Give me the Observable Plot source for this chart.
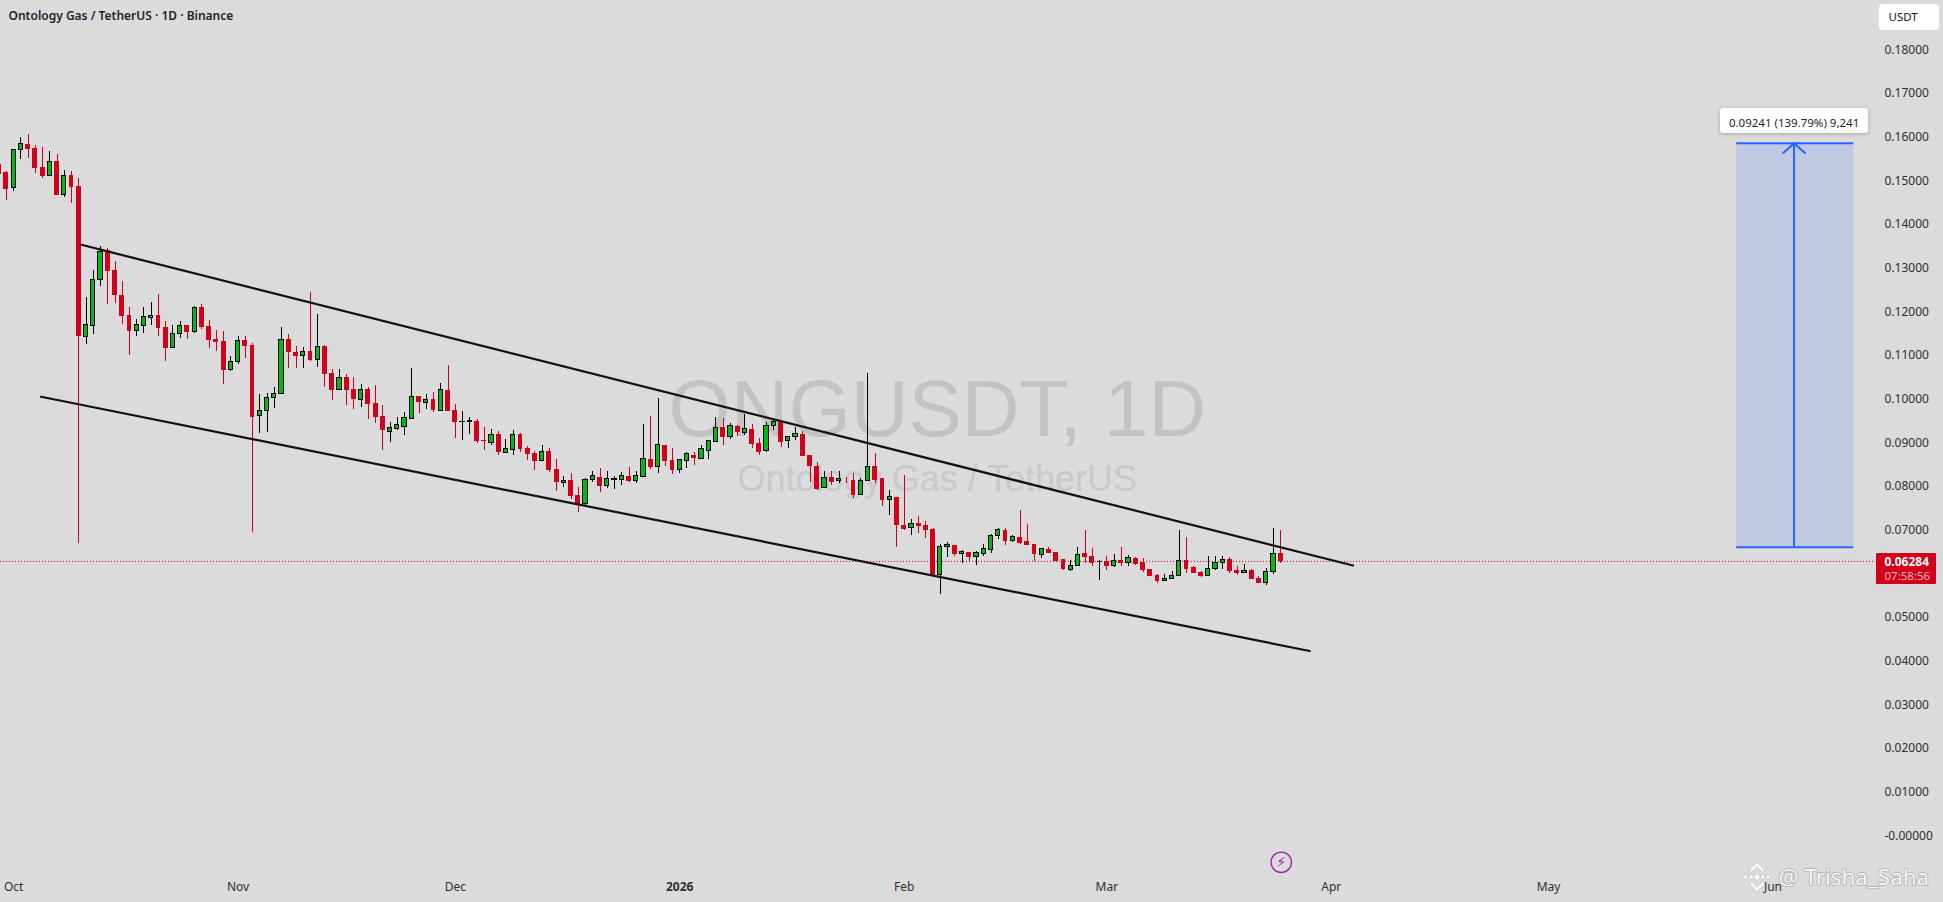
<!DOCTYPE html>
<html><head><meta charset="utf-8">
<style>html,body{margin:0;padding:0;background:#dbdbdb;overflow:hidden}svg{display:block}</style>
<script src="https://cdn.jsdelivr.net/npm/d3@7"></script>
<script src="https://cdn.jsdelivr.net/npm/@observablehq/plot@0.6"></script>
</head><body><div id="chart"></div>
<script>
const open=[.15377,.15193,.14834,.15705,.15835,.15743,.15308,.15109,.15445,.14674,.15125,.14873,.11421,.11673,.12727,.13406,.12948,.12375,.11917,.11558,.11673,.11856,.11917,.11642,.11169,.11489,.11688,.11535,.12100,.11665,.11367,.11321,.10665,.10848,.11344,.11230,.09611,.09725,.10023,.10115,.11367,.11069,.10985,.11092,.10894,.11207,.10588,.10206,
.10497,.10222,.09993,.10222,.09901,.09603,.09259,.09328,.09374,.09557,.10061,.09924,.09993,.09740,.10199,.09740,.09473,.09473,.09488,.09053,.09007,.09191,.08778,.08847,.09191,.08870,.08755,.08580,.08801,.08389,.08076,
.08138,.07794,.07595,.08145,.08206,.08000,.08153,.08145,.08229,.08122,.08214,.08619,.08443,.08940,.08596,.08374,.08581,.08710,.08626,.08810,.09016,.09352,.09123,.09375,.09237,.09306,.08985,.08802,.09375,.09467,.09039,.09123,.09192,.08710,.08458,.07962,.08206,.08130,.08145,.08138,.07802,.08122,.08458,.08183,.07695,
.07748,.07107,.07038,.07153,.07107,.07015,.05976,.06603,.06649,.06450,.06488,.06381,.06450,.06542,.06862,.06992,.06748,.06832,.06740,.06671,.06427,.06557,.06488,.06328,.06076,.06175,
.06465,.06396,.06266,.06281,.06175,.06304,.06251,.06350,.06259,.06098,.05961,.05839,.05877,.05945,.06304,.06144,.06029,.05945,.06106,.06251,.06327,.06075,.06022,.06075,.05892,.05785,.06037,.06457];
const high=[.15377,.15216,.15713,.15995,.16064,.15804,.15766,.15675,.15606,.15239,.15216,.15056,.12329,.12948,.13498,.13445,.13147,.12696,.12100,.11825,.12100,.12215,.12398,.11780,.11688,.11780,.11688,.12123,.12169,.11803,.11573,.11551,.10978,.11436,.11436,.11276,.10107,.10130,.10268,.11642,.11482,.11207,.11184,.12444,.11940,.11230,.10680,.10680,
.10565,.10497,.10336,.10267,.10313,.09855,.09465,.09580,.09695,.10703,.10061,.10107,.10153,.10359,.10771,.09878,.09718,.09580,.09534,.09351,.09305,.09259,.09076,.09282,.09214,.08916,.08801,.08939,.08870,.08618,.08228,
.08298,.07977,.08183,.08344,.08413,.08344,.08229,.08321,.08436,.08344,.09421,.09604,.10016,.08940,.08871,.08619,.08779,.08779,.08940,.09054,.09581,.09558,.09444,.09398,.09650,.09421,.09100,.09467,.09535,.09512,.09146,.09352,.09260,.08710,.08550,.08344,.08344,.08344,.08206,.08298,.08183,.10589,.08756,.08183,.07909,
.07748,.08252,.07244,.07313,.07198,.07038,.06671,.06717,.06649,.06534,.06488,.06511,.06671,.06900,.07038,.07038,.06878,.07450,.07130,.06671,.06580,.06603,.06488,.06328,.06305,.06603,
.06992,.06579,.06304,.06396,.06442,.06602,.06419,.06373,.06350,.06098,.05984,.05984,.06052,.06992,.06831,.06167,.06052,.06396,.06396,.06396,.06373,.06167,.06213,.06098,.05938,.06121,.07038,.06992];
const low=[.15148,.14552,.14758,.15491,.15514,.15171,.15056,.15109,.14666,.14621,.14483,.06693,.11253,.11482,.12582,.12169,.12192,.11711,.11001,.11436,.11505,.11688,.11436,.10863,.11169,.11390,.11367,.11505,.11596,.11161,.11092,.10336,.10634,.10795,.10932,.06945,.09214,.09237,.09786,.10115,.10703,.10703,.10703,.10863,.10726,.10268,.09970,.10206,
.09855,.09763,.09809,.09534,.09443,.08824,.09007,.09282,.09168,.09557,.09672,.09763,.09695,.09740,.09718,.09099,.09053,.09191,.08984,.08824,.08939,.08709,.08778,.08709,.08778,.08595,.08366,.08580,.08320,.07885,.07976,
.07702,.07404,.07542,.08092,.07863,.07954,.07932,.08023,.08092,.08069,.08214,.08390,.08298,.08458,.08275,.08298,.08413,.08481,.08626,.08619,.09016,.08940,.09077,.09146,.09169,.08871,.08710,.08779,.09283,.08894,.08871,.09054,.08687,.08092,.07909,.07954,.08023,.08069,.08069,.07725,.07794,.08122,.08069,.07542,.07336,
.06603,.06992,.06878,.06923,.06809,.05938,.05526,.06374,.06396,.06236,.06282,.06190,.06396,.06465,.06786,.06649,.06717,.06671,.06649,.06282,.06351,.06465,.06259,.06076,.06053,.06175,
.06236,.06167,.05846,.06075,.06144,.06167,.06167,.06190,.06029,.05938,.05777,.05823,.05869,.05938,.06006,.06006,.05915,.05938,.06075,.06098,.06006,.05961,.06006,.05869,.05777,.05732,.05984,.06236];
const close=[.15148,.14804,.15713,.15850,.15720,.15285,.15102,.15438,.14666,.15117,.14850,.11436,.11703,.12734,.13376,.12925,.12375,.11894,.11551,.11703,.11887,.11917,.11619,.11161,.11497,.11680,.11528,.12100,.11642,.11344,.11299,.10657,.10856,.11337,.11207,.09580,.09733,.10031,.10122,.11360,.11069,.10978,.11085,.10886,.11199,.10565,.10199,.10489,
.10199,.09993,.10222,.09878,.09580,.09282,.09343,.09412,.09580,.10061,.09924,.09993,.09740,.10222,.09718,.09465,.09488,.09504,.09030,.09038,.09191,.08778,.08862,.09191,.08847,.08732,.08572,.08793,.08366,.08091,.08137,
.07771,.07565,.08153,.08229,.08000,.08161,.08168,.08229,.08115,.08229,.08619,.08436,.08940,.08573,.08367,.08596,.08733,.08642,.08848,.09031,.09329,.09123,.09375,.09237,.09306,.08962,.08779,.09375,.09467,.09008,.09123,.09192,.08687,.08458,.07932,.08206,.08092,.08161,.08130,.07794,.08130,.08451,.08138,.07679,.07748,
.07107,.07015,.07130,.07084,.06992,.05938,.06618,.06671,.06442,.06488,.06374,.06465,.06557,.06855,.06992,.06740,.06832,.06694,.06649,.06442,.06557,.06465,.06282,.06099,.06190,.06442,
.06373,.06236,.06281,.06167,.06297,.06236,.06365,.06213,.06075,.05938,.05823,.05892,.05953,.06297,.06098,.06006,.05938,.06113,.06251,.06320,.06052,.06006,.06068,.05869,.05777,.06045,.06457,.06284];

const firstDay = Date.UTC(2025, 8, 29);
const DAY = 864e5;
const RED = "#d1011b", GREEN = "#04b814", BLUE = "#2962ff";
const candles = open.map((o, i) => ({date: new Date(firstDay + i * DAY), open: o, high: high[i], low: low[i], close: close[i]}));
const up = candles.filter(d => d.close >= d.open);
const down = candles.filter(d => d.close < d.open);
const halfBody = 8 * 36e5, halfGreen = 7 * 36e5;

const upperChannel = [{date: new Date("2025-10-10T09:00Z"), value: .13537}, {date: new Date("2026-04-04T00:00Z"), value: .06190}];
const lowerChannel = [{date: new Date("2025-10-04T19:00Z"), value: .10055}, {date: new Date("2026-03-29T00:00Z"), value: .04231}];
const lastPrice = .06284;
const projection = {start: new Date("2026-05-27T00:00Z"), end: new Date("2026-06-12T04:00Z"), mid: new Date("2026-06-03T22:00Z"), top: .15865, bottom: .06609};
const arrowHead = [
  {date: new Date("2026-06-02T10:00Z"), value: .15640},
  {date: projection.mid, value: projection.top},
  {date: new Date("2026-06-05T10:00Z"), value: .15640}];
const priceTicks = [0,.01,.02,.03,.04,.05,.07,.08,.09,.10,.11,.12,.13,.14,.15,.16,.17,.18];
const monthTicks = ["2025-10-01","2025-11-01","2025-12-01","2026-02-01","2026-03-01","2026-04-01","2026-05-01","2026-06-01"].map(s => new Date(s + "T00:00Z"));
const monthNames = ["Oct","Nov","Dec","Feb","Mar","Apr","May","Jun"];
const yearTick = [new Date("2026-01-01T00:00Z")];
const FONT = "'Noto Sans', sans-serif";

function box(x, y, w, h, fill, r, shadow) {
  return () => {
    const g = d3.create("svg:rect").attr("x", x).attr("y", y).attr("width", w).attr("height", h)
      .attr("fill", fill).attr("rx", r);
    if (shadow) g.style("filter", "drop-shadow(0 1px 2px rgba(0,0,0,.25))");
    return g.node();
  };
}
function binanceLogo(cx, cy) {
  return () => d3.create("svg:path").attr("transform", `translate(${cx},${cy}) scale(1)`)
    .attr("fill", "#f6f6f6").attr("stroke", "#bdbdbd").attr("stroke-width", .7)
    .attr("d", "M0,-3.8L3.8,0L0,3.8L-3.8,0Z M-8.6,0L-5.9,-2.7L-3.2,0L-5.9,2.7Z M8.6,0L5.9,-2.7L3.2,0L5.9,2.7Z M-14,0L-11.3,-2.7L-8.6,0L-11.3,2.7Z M14,0L11.3,-2.7L8.6,0L11.3,2.7Z M0,-15L8,-7L5.4,-4.4L0,-9.8L-5.4,-4.4L-8,-7Z M0,15L8,7L5.4,4.4L0,9.8L-5.4,4.4L-8,7Z")
    .node();
}

const chart = Plot.plot({
  width: 1943, height: 902,
  marginTop: 0, marginLeft: 0, marginRight: 68, marginBottom: 27,
  style: {background: "#dbdbdb", fontFamily: FONT, fontSize: "12px", color: "#333"},
  x: {type: "utc", domain: [new Date("2025-09-29T04:26Z"), new Date("2026-06-15T03:55Z")]},
  y: {domain: [-.00912, .19134]},
  marks: [
    Plot.text(["ONGUSDT, 1D"], {x: () => new Date("2026-02-05T14:00Z"), y: () => .0975, fontSize: 80, fill: "#c2c3c5", fontFamily: "'Liberation Sans', sans-serif", textAnchor: "middle"}),
    Plot.text(["Ontology Gas / TetherUS"], {x: () => new Date("2026-02-05T14:00Z"), y: () => .0815, fontSize: 36, fill: "#c8c9cb", fontFamily: "'Liberation Sans', sans-serif", textAnchor: "middle"}),
    Plot.rect([projection], {x1: "start", x2: "end", y1: "top", y2: "bottom", fill: "#bfc9e2"}),
    Plot.ruleY([projection.top, projection.bottom], {x1: projection.start, x2: projection.end, stroke: BLUE, strokeWidth: 2}),
    Plot.ruleX([projection.mid], {y1: projection.top, y2: projection.bottom, stroke: BLUE, strokeWidth: 2}),
    Plot.line(arrowHead, {x: "date", y: "value", stroke: BLUE, strokeWidth: 2}),
    Plot.ruleY([lastPrice], {stroke: RED, strokeWidth: 1, strokeDasharray: "1 2"}),
    Plot.ruleX(down, {x: "date", y1: "low", y2: "high", stroke: RED, strokeWidth: 1, shapeRendering: "crispEdges"}),
    Plot.ruleX(up, {x: "date", y1: "low", y2: "high", stroke: "#000", strokeWidth: 1, shapeRendering: "crispEdges"}),
    Plot.rect(down, {x1: d => new Date(+d.date - halfBody), x2: d => new Date(+d.date + halfBody), y1: "open", y2: "close", fill: RED, shapeRendering: "crispEdges"}),
    Plot.rect(up, {x1: d => new Date(+d.date - halfGreen), x2: d => new Date(+d.date + halfGreen), y1: "open", y2: "close", fill: GREEN, stroke: "#000", strokeWidth: 1, shapeRendering: "crispEdges"}),
    Plot.line(upperChannel, {x: "date", y: "value", stroke: "#111", strokeWidth: 2.2}),
    Plot.line(lowerChannel, {x: "date", y: "value", stroke: "#111", strokeWidth: 2.2}),
    Plot.axisY({anchor: "right", ticks: priceTicks, tickFormat: d => (d === 0 ? "-" : "") + d.toFixed(5), tickSize: 0, tickPadding: 9, label: null, fill: "#2f2f2f"}),
    Plot.axisX({anchor: "bottom", ticks: monthTicks, tickFormat: d => monthNames[monthTicks.findIndex(m => +m === +d)], tickSize: 0, tickPadding: 7, label: null, fill: "#2f2f2f"}),
    Plot.axisX({anchor: "bottom", ticks: yearTick, tickFormat: () => "2026", tickSize: 0, tickPadding: 7, label: null, fill: "#2f2f2f", fontWeight: 700}),
    Plot.dot([0], {x: () => new Date("2026-03-25T02:00Z"), y: () => -.0061, r: 10.2, stroke: "#9c27b0", strokeWidth: 1.4}),
    Plot.text(["\u26A1"], {x: () => new Date("2026-03-25T02:00Z"), y: () => -.0061, fontSize: 14, fill: "#9c27b0", fontFamily: "'DejaVu Sans'"}),
    box(1720, 108, 148, 25, "#ffffff", 3, true),
    Plot.text(["0.09241 (139.79%) 9,241"], {x: () => projection.mid, y: () => .1632, fontSize: 11.5, fill: "#1e222d"}),
    box(1879, 4, 60, 26, "#ffffff", 4, false),
    box(1876, 553, 60, 31, RED, 1, false),
    Plot.text(["USDT"], {frameAnchor: "top-left", dx: 1888, dy: 17, fontSize: 11.5, textAnchor: "start", fill: "#131722", lineAnchor: "middle"}),
    Plot.text(["0.06284"], {frameAnchor: "top-left", dx: 1884, dy: 561.5, fontSize: 12, fontWeight: 700, textAnchor: "start", fill: "#fff", lineAnchor: "middle"}),
    Plot.text(["07:58:56"], {frameAnchor: "top-left", dx: 1884, dy: 575.5, fontSize: 11.5, textAnchor: "start", fill: "#f4b6bf", lineAnchor: "middle"}),
    Plot.text(["Ontology Gas / TetherUS \u00B7 1D \u00B7 Binance"], {frameAnchor: "top-left", dx: 8, dy: 16, fontSize: 12, fontWeight: 600, textAnchor: "start", fill: "#1e222d", lineAnchor: "middle"}),
    binanceLogo(1757, 877),
    Plot.text(["@ Trisha_Saha"], {frameAnchor: "top-left", dx: 1778, dy: 877, fontSize: 22.4, textAnchor: "start", fill: "#f6f6f6", stroke: "#adadad", strokeWidth: 1.6, lineAnchor: "middle"})
  ]
});
document.getElementById("chart").append(chart);
</script></body></html>
